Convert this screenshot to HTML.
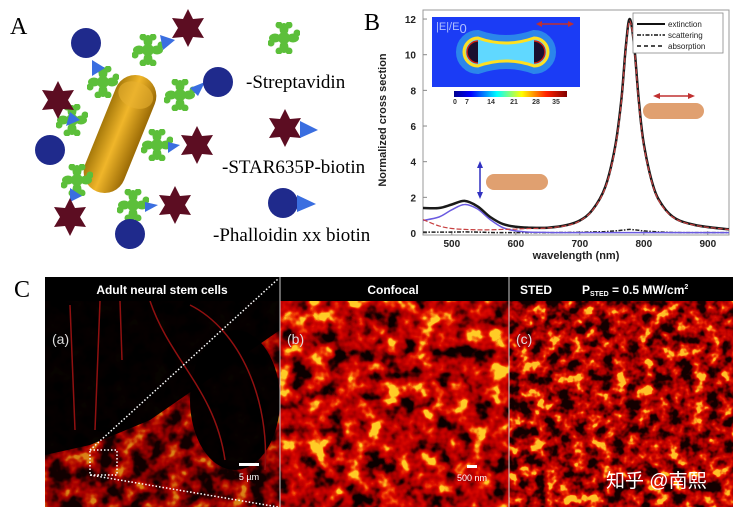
<!DOCTYPE html>
<html><head><meta charset="utf-8">
<style>
html,body{margin:0;padding:0;background:#fff;}
body{width:739px;height:513px;overflow:hidden;position:relative;font-family:"Liberation Sans",sans-serif;}
svg{position:absolute;left:0;top:0;}
filter{color-interpolation-filters:sRGB;}
</style></head>
<body>
<svg id="fig" width="739" height="513" viewBox="0 0 739 513">
<defs>
  <linearGradient id="gold" x1="0" y1="0" x2="1" y2="0">
    <stop offset="0" stop-color="#a5780a"/><stop offset="0.45" stop-color="#f0b62a"/><stop offset="1" stop-color="#9a6a05"/>
  </linearGradient>
  <linearGradient id="jet" x1="0" y1="0" x2="1" y2="0">
    <stop offset="0" stop-color="#00008f"/><stop offset="0.15" stop-color="#0000ff"/><stop offset="0.38" stop-color="#00ffff"/><stop offset="0.6" stop-color="#ffff00"/><stop offset="0.82" stop-color="#ff2000"/><stop offset="1" stop-color="#800000"/>
  </linearGradient>
  <filter id="heat" x="0" y="0" width="100%" height="100%" color-interpolation-filters="sRGB">
    <feTurbulence type="fractalNoise" baseFrequency="0.055" numOctaves="3" seed="7" result="n"/>
    <feColorMatrix in="n" type="matrix" values="2.4 0 0 0 -0.7  2.4 0 0 0 -0.7  2.4 0 0 0 -0.7  0 0 0 0 1" result="g"/>
    <feComponentTransfer in="g">
      <feFuncR type="table" tableValues="0.05 0.3 0.6 0.75 0.85 0.95 1"/>
      <feFuncG type="table" tableValues="0 0 0 0 0.03 0.25 0.8"/>
      <feFuncB type="table" tableValues="0 0 0 0 0 0.02 0.15"/>
    </feComponentTransfer>
  </filter>
  <filter id="heat2" x="0" y="0" width="100%" height="100%" color-interpolation-filters="sRGB">
    <feTurbulence type="fractalNoise" baseFrequency="0.075" numOctaves="3" seed="11" result="n"/>
    <feColorMatrix in="n" type="matrix" values="2.4 0 0 0 -0.74  2.4 0 0 0 -0.74  2.4 0 0 0 -0.74  0 0 0 0 1" result="g"/>
    <feComponentTransfer in="g">
      <feFuncR type="table" tableValues="0.08 0.28 0.55 0.72 0.82 0.95 1"/>
      <feFuncG type="table" tableValues="0 0 0 0 0.03 0.2 0.75"/>
      <feFuncB type="table" tableValues="0 0 0 0 0 0.02 0.15"/>
    </feComponentTransfer>
  </filter>
  <filter id="heat3" x="0" y="0" width="100%" height="100%" color-interpolation-filters="sRGB">
    <feTurbulence type="fractalNoise" baseFrequency="0.06" numOctaves="3" seed="2" result="n"/>
    <feColorMatrix in="n" type="matrix" values="2.2 0 0 0 -0.7  2.2 0 0 0 -0.7  2.2 0 0 0 -0.7  0 0 0 0 1" result="g"/>
    <feComponentTransfer in="g">
      <feFuncR type="table" tableValues="0.08 0.3 0.6 0.78 0.9 1"/>
      <feFuncG type="table" tableValues="0 0 0 0 0.15 0.6"/>
      <feFuncB type="table" tableValues="0 0 0 0 0 0.1"/>
    </feComponentTransfer>
  </filter>
  <clipPath id="clipA"><rect x="45" y="301" width="235" height="206"/></clipPath>
  <clipPath id="plotClip"><rect x="423" y="10" width="306" height="225"/></clipPath>
  <symbol id="strep" viewBox="-16 -16 32 32">
    <g fill="#5cbf3a">
      <circle r="6"/>
      <ellipse cx="0" cy="-9" rx="4.5" ry="6"/><ellipse cx="0" cy="9" rx="4.5" ry="6"/>
      <ellipse cx="-9" cy="0" rx="6" ry="4.5"/><ellipse cx="9" cy="0" rx="6" ry="4.5"/>
      <circle cx="-5" cy="-13" r="3.5"/><circle cx="5" cy="-13" r="3.5"/><circle cx="-13" cy="5" r="3.5"/><circle cx="13" cy="-5" r="3.5"/><circle cx="5" cy="13" r="3.5"/><circle cx="-5" cy="13" r="3.5"/>
    </g>
  </symbol>
  <symbol id="star" viewBox="-20 -20 40 40">
    <polygon fill="#5c0d22" points="0,-19 5,-9 16,-10 10,0 16,10 5,9 0,19 -5,9 -16,10 -10,0 -16,-10 -5,-9"/>
  </symbol>
</defs>

<!-- Panel A -->
<g>
  <text x="10" y="34" font-family="Liberation Serif,serif" font-size="24">A</text>
  <g transform="translate(120,134) rotate(22)">
    <rect x="-21" y="-62" width="42" height="124" rx="21" fill="url(#gold)"/>
    <ellipse cx="0" cy="-42" rx="18" ry="13" fill="#e8b030" opacity="0.6"/>
  </g>
  <g>
    <use href="#strep" x="132" y="34" width="32" height="32"/>
    <use href="#strep" x="87" y="66" width="32" height="32"/>
    <use href="#strep" x="164" y="79" width="32" height="32"/>
    <use href="#strep" x="56" y="104" width="32" height="32"/>
    <use href="#strep" x="141" y="129" width="32" height="32"/>
    <use href="#strep" x="61" y="164" width="32" height="32"/>
    <use href="#strep" x="117" y="189" width="32" height="32"/>
  </g>
  <g fill="#3a6ee0">
    <polygon points="160,35 175,40 163,50"/><polygon points="92,60 105,68 92,76"/><polygon points="190,88 205,82 198,96"/>
    <polygon points="70,112 80,120 66,126"/><polygon points="168,142 180,145 168,153"/><polygon points="70,188 82,196 70,202"/><polygon points="145,202 158,205 145,212"/>
  </g>
  <g>
    <use href="#star" x="168" y="8" width="40" height="40"/>
    <use href="#star" x="38" y="80" width="40" height="40"/>
    <use href="#star" x="177" y="125" width="40" height="40"/>
    <use href="#star" x="50" y="197" width="40" height="40"/>
    <use href="#star" x="155" y="185" width="40" height="40"/>
  </g>
  <g fill="#1f2a8c">
    <circle cx="86" cy="43" r="15"/><circle cx="218" cy="82" r="15"/><circle cx="50" cy="150" r="15"/><circle cx="130" cy="234" r="15"/>
  </g>
  <g>
    <use href="#strep" x="268" y="22" width="32" height="32"/>
    <text x="246" y="88" font-family="Liberation Serif,serif" font-size="19">-Streptavidin</text>
    <use href="#star" x="265" y="108" width="40" height="40"/>
    <polygon points="300,121 318,130 300,138" fill="#3a6ee0"/>
    <text x="222" y="173" font-family="Liberation Serif,serif" font-size="19">-STAR635P-biotin</text>
    <circle cx="283" cy="203" r="15" fill="#1f2a8c"/>
    <polygon points="297,195 316,204 297,212" fill="#3a6ee0"/>
    <text x="213" y="241" font-family="Liberation Serif,serif" font-size="19">-Phalloidin xx biotin</text>
  </g>
</g>

<!-- Panel B -->
<g id="panelB">
  <text x="364" y="30" font-family="Liberation Serif,serif" font-size="24">B</text>
  <rect x="423" y="10" width="306" height="225" fill="#fff" stroke="#999" stroke-width="1"/>
  <g id="ticks"></g>
  <g id="series" clip-path="url(#plotClip)"></g>
  <text x="386" y="120" transform="rotate(-90 386 120)" text-anchor="middle" font-size="11" font-weight="bold" fill="#222">Normalized cross section</text>
  <text x="576" y="259" text-anchor="middle" font-size="11" font-weight="bold" fill="#222">wavelength (nm)</text>
  <g>
    <rect x="432" y="17" width="148" height="70" fill="#1b3cf5"/>
    <path d="M478,34 A18,18 0 1 0 478,70 Q506,60 534,70 A18,18 0 1 0 534,34 Q506,44 478,34Z" fill="none" stroke="#40e0e0" stroke-width="8" opacity="0.45"/>
    <path d="M478,38 A14,14 0 1 0 478,66 Q506,56 534,66 A14,14 0 1 0 534,38 Q506,48 478,38Z" fill="#60d8ff" stroke="#ffe020" stroke-width="3"/>
    <path d="M478,41 A11,11 0 1 0 478,63" fill="#1a1030" stroke="#d02010" stroke-width="1.5"/>
    <path d="M534,41 A11,11 0 1 1 534,63" fill="#1a1030" stroke="#d02010" stroke-width="1.5"/>
    <text x="436" y="30" font-size="11" fill="#b0c0ff">|E|/E<tspan font-size="13" dy="3">0</tspan></text>
    <line x1="539" y1="24" x2="571" y2="24" stroke="#c03030" stroke-width="1.5"/>
    <polygon points="536,24 542,21 542,27" fill="#c03030"/><polygon points="574,24 568,21 568,27" fill="#c03030"/>
    <rect x="454" y="91" width="113" height="6" fill="url(#jet)"/>
    <g font-size="7" fill="#333" text-anchor="middle" font-weight="bold">
      <text x="455" y="104">0</text><text x="467" y="104">7</text><text x="491" y="104">14</text><text x="514" y="104">21</text><text x="536" y="104">28</text><text x="556" y="104">35</text>
    </g>
  </g>
  <g>
    <rect x="633" y="13" width="90" height="40" fill="#fff" stroke="#888" stroke-width="0.8"/>
    <line x1="637" y1="24" x2="665" y2="24" stroke="#111" stroke-width="2"/>
    <text x="668" y="27" font-size="8" fill="#222">extinction</text>
    <line x1="637" y1="35" x2="665" y2="35" stroke="#111" stroke-width="1.5" stroke-dasharray="4,1.5,1.5,1.5"/>
    <text x="668" y="38" font-size="8" fill="#222">scattering</text>
    <line x1="637" y1="46" x2="665" y2="46" stroke="#111" stroke-width="1.5" stroke-dasharray="4,3"/>
    <text x="668" y="49" font-size="8" fill="#222">absorption</text>
  </g>
  <g>
    <rect x="643" y="103" width="61" height="16" rx="8" fill="#e0a070"/>
    <line x1="656" y1="96" x2="692" y2="96" stroke="#c03030" stroke-width="1.5"/>
    <polygon points="653,96 660,93 660,99" fill="#c03030"/><polygon points="695,96 688,93 688,99" fill="#c03030"/>
  </g>
  <g>
    <rect x="486" y="174" width="62" height="16" rx="8" fill="#e0a070"/>
    <line x1="480" y1="164" x2="480" y2="196" stroke="#3030c0" stroke-width="1.5"/>
    <polygon points="480,161 477,168 483,168" fill="#3030c0"/><polygon points="480,199 477,192 483,192" fill="#3030c0"/>
  </g>
</g>

<!-- Panel C -->
<g>
  <text x="14" y="297" font-family="Liberation Serif,serif" font-size="24">C</text>
  <rect x="45" y="277" width="688" height="24" fill="#000"/>
  <g clip-path="url(#clipA)">
    <rect x="45" y="301" width="235" height="206" fill="#000"/>
    <rect x="45" y="301" width="235" height="206" filter="url(#heat3)" opacity="0.85"/>
    <polygon points="45,301 280,301 280,330 150,420 90,445 45,455" fill="#000" opacity="0.97"/>
    <ellipse cx="235" cy="400" rx="45" ry="70" fill="#000" opacity="0.97"/>
    <path d="M100,301 L95,430 M150,301 C170,360 215,390 225,460 M190,305 C240,330 270,400 265,470 M70,305 L75,430 M120,301 L122,360" stroke="#901010" stroke-width="1.5" fill="none"/>
  </g>
  <rect x="280" y="301" width="229" height="206" fill="#000"/>
  <rect x="280" y="301" width="229" height="206" filter="url(#heat)"/>
  <rect x="509" y="301" width="224" height="206" fill="#000"/>
  <rect x="509" y="301" width="224" height="206" filter="url(#heat2)"/>
  <line x1="280" y1="277" x2="280" y2="507" stroke="#ccc" stroke-width="1"/>
  <line x1="509" y1="277" x2="509" y2="507" stroke="#ccc" stroke-width="1"/>
  <g stroke="#fff" stroke-width="1.5" stroke-dasharray="1.5,2" fill="none">
    <rect x="90" y="450" width="27" height="25"/>
    <line x1="90" y1="450" x2="278" y2="279"/>
    <line x1="90" y1="475" x2="278" y2="507"/>
  </g>
  <g fill="#fff" font-size="12" font-weight="bold">
    <text x="162" y="294" text-anchor="middle">Adult neural stem cells</text>
    <text x="393" y="294" text-anchor="middle">Confocal</text>
    <text x="520" y="294">STED</text>
    <text x="582" y="294">P<tspan font-size="7" dy="2">STED</tspan><tspan dy="-2"> = 0.5 MW/cm</tspan><tspan font-size="7" dy="-5">2</tspan></text>
  </g>
  <g fill="#ddd" font-size="14">
    <text x="52" y="344">(a)</text>
    <text x="287" y="344">(b)</text>
    <text x="516" y="344">(c)</text>
  </g>
  <g>
    <rect x="239" y="463" width="20" height="3" fill="#fff"/>
    <text x="249" y="480" fill="#fff" font-size="9" text-anchor="middle">5 µm</text>
    <rect x="467" y="465" width="10" height="3" fill="#fff"/>
    <text x="472" y="481" fill="#fff" font-size="9" text-anchor="middle">500 nm</text>
  </g>
  <text x="606" y="487" fill="#fff" font-size="19" font-family="Liberation Sans,'Noto Sans CJK SC',sans-serif">知乎 @南熙</text>
</g>
</svg>

<script>
const wavelengths = [455,480,500,520,540,560,580,600,620,650,680,700,720,740,755,765,772,778,785,792,800,815,830,850,880,920,955];
const extinction = [1.4,1.4,1.6,1.8,1.5,0.9,0.5,0.35,0.3,0.3,0.45,0.7,1.3,2.6,4.8,7.5,10.5,12,10.5,7.5,5,2.6,1.5,0.8,0.45,0.25,0.15];
const absorptionLong = [0.75,0.4,0.25,0.2,0.18,0.18,0.2,0.22,0.25,0.28,0.42,0.68,1.28,2.55,4.7,7.4,10.4,11.9,10.4,7.4,4.9,2.55,1.45,0.78,0.43,0.24,0.14];
const transverse = [0.7,0.9,1.3,1.6,1.35,0.75,0.3,0.12,0.05,0.03,0.02,0.02,0.02,0.02,0.02,0.02,0.02,0.02,0.02,0.02,0.02,0.02,0.02,0.02,0.02,0.02,0.02];
const scattering = [0.05,0.05,0.05,0.06,0.05,0.03,0.02,0.02,0.02,0.02,0.03,0.04,0.06,0.08,0.12,0.15,0.18,0.2,0.18,0.15,0.12,0.08,0.05,0.03,0.02,0.02,0.02];
const xTicks = [500,600,700,800,900];
const yTicks = [0,2,4,6,8,10,12];

const NS = 'http://www.w3.org/2000/svg';
function xs(w){ return 423 + (w-455)*0.64; }
function ys(v){ return 233 - v*17.83; }
function smoothPath(xa, ya){
  const p = xa.map((w,i)=>[xs(w), ys(ya[i])]);
  let d = 'M'+p[0][0].toFixed(1)+','+p[0][1].toFixed(1);
  for(let i=0;i<p.length-1;i++){
    const p0=p[Math.max(0,i-1)], p1=p[i], p2=p[i+1], p3=p[Math.min(p.length-1,i+2)];
    const c1=[p1[0]+(p2[0]-p0[0])/6, p1[1]+(p2[1]-p0[1])/6];
    const c2=[p2[0]-(p3[0]-p1[0])/6, p2[1]-(p3[1]-p1[1])/6];
    d+=' C'+c1[0].toFixed(1)+','+c1[1].toFixed(1)+' '+c2[0].toFixed(1)+','+c2[1].toFixed(1)+' '+p2[0].toFixed(1)+','+p2[1].toFixed(1);
  }
  return d;
}
const ticks = document.getElementById('ticks');
xTicks.forEach(t=>{
  const l=document.createElementNS(NS,'line');
  l.setAttribute('x1',xs(t));l.setAttribute('x2',xs(t));l.setAttribute('y1',235);l.setAttribute('y2',231);
  l.setAttribute('stroke','#888');
  
  
  ticks.appendChild(l);
  const tx=document.createElementNS(NS,'text');
  tx.setAttribute('x',xs(t));tx.setAttribute('y',247);tx.setAttribute('text-anchor','middle');
  tx.setAttribute('font-size','10');tx.setAttribute('font-weight','bold');tx.setAttribute('fill','#222');
  tx.textContent=t;
  
  
  ticks.appendChild(tx);
});
yTicks.forEach(t=>{
  const l=document.createElementNS(NS,'line');
  l.setAttribute('x1',423);l.setAttribute('x2',427);l.setAttribute('y1',ys(t));l.setAttribute('y2',ys(t));
  l.setAttribute('stroke','#888');
  
  
  ticks.appendChild(l);
  const tx=document.createElementNS(NS,'text');
  tx.setAttribute('x',416);tx.setAttribute('y',ys(t)+4);tx.setAttribute('text-anchor','end');
  tx.setAttribute('font-size','10');tx.setAttribute('font-weight','bold');tx.setAttribute('fill','#222');
  tx.textContent=t;
  
  
  ticks.appendChild(tx);
});
const series = document.getElementById('series');
function addLine(vals, color, width, dash, name){
  const p=document.createElementNS(NS,'path');
  p.setAttribute('d',smoothPath(wavelengths, vals));
  p.setAttribute('fill','none');p.setAttribute('stroke',color);p.setAttribute('stroke-width',width);
  if(dash) p.setAttribute('stroke-dasharray',dash);
  
  
  series.appendChild(p);
}
addLine(scattering,'#222',1.5,'4,1.5,1.5,1.5','scattering-line');
addLine(transverse,'#6a5ae0',1.5,null,'transverse-line');
addLine(extinction,'#1a1a1a',2.5,null,'extinction-line');
addLine(absorptionLong,'#c84040',1.2,'5,2','absorption-line');
</script>
</body></html>
